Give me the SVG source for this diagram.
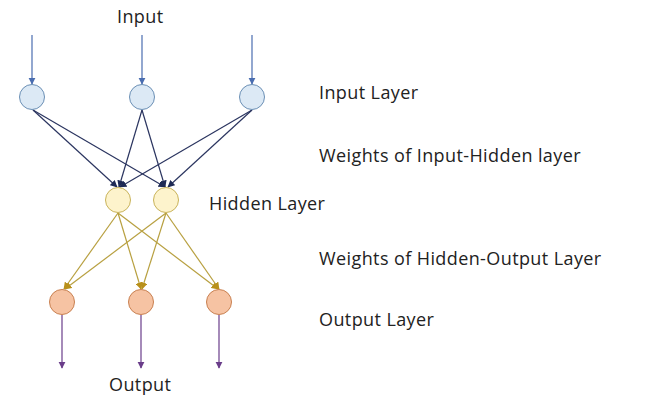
<svg xmlns="http://www.w3.org/2000/svg" width="652" height="411" viewBox="0 0 652 411">
<style>
text{font-family:"Open Sans","Liberation Sans",sans-serif;font-size:18px;letter-spacing:0.4px;fill:#222}
.i{fill:#dce9f5;stroke:#6a8fb5;stroke-width:1}
.h{fill:#fdf3cc;stroke:#c9b35a;stroke-width:1}
.o{fill:#f6c3a3;stroke:#c98050;stroke-width:1}
.a{stroke:#4a6db0;stroke-width:1.2;fill:none}
.b{stroke:#2b3560;stroke-width:1.2;fill:none}
.c{stroke:#b8a040;stroke-width:1.2;fill:none}
.d{stroke:#6a3d8a;stroke-width:1.2;fill:none}
</style>
<defs>
<marker id="ma" viewBox="0 0 10 10" refX="9" refY="5" markerWidth="6" markerHeight="6" orient="auto"><path d="M0,0L10,5L0,10z" fill="#4a6db0"/></marker>
<marker id="mb" viewBox="0 0 10 10" refX="9" refY="5" markerWidth="6" markerHeight="6" orient="auto"><path d="M0,0L10,5L0,10z" fill="#1e2a55"/></marker>
<marker id="mc" viewBox="0 0 10 10" refX="9" refY="5" markerWidth="6" markerHeight="6" orient="auto"><path d="M0,0L10,5L0,10z" fill="#b8901a"/></marker>
<marker id="md" viewBox="0 0 10 10" refX="9" refY="5" markerWidth="6" markerHeight="6" orient="auto"><path d="M0,0L10,5L0,10z" fill="#6a3d8a"/></marker>
</defs>
<rect width="652" height="411" fill="#fff"/>
<g id="connectors">
<line class="a" x1="32" y1="35" x2="32" y2="84" marker-end="url(#ma)"/>
<line class="a" x1="142" y1="35" x2="142" y2="84" marker-end="url(#ma)"/>
<line class="a" x1="252" y1="35" x2="252" y2="84" marker-end="url(#ma)"/>
<line class="b" x1="33" y1="110" x2="117" y2="187" marker-end="url(#mb)"/>
<line class="b" x1="33" y1="110" x2="165" y2="187" marker-end="url(#mb)"/>
<line class="b" x1="142" y1="110" x2="119" y2="187" marker-end="url(#mb)"/>
<line class="b" x1="142" y1="110" x2="165" y2="187" marker-end="url(#mb)"/>
<line class="b" x1="252" y1="110" x2="120" y2="187" marker-end="url(#mb)"/>
<line class="b" x1="252" y1="110" x2="168" y2="187" marker-end="url(#mb)"/>
<line class="c" x1="118" y1="213" x2="64" y2="289" marker-end="url(#mc)"/>
<line class="c" x1="118" y1="213" x2="141" y2="289" marker-end="url(#mc)"/>
<line class="c" x1="118" y1="213" x2="218" y2="289" marker-end="url(#mc)"/>
<line class="c" x1="166" y1="213" x2="65" y2="289" marker-end="url(#mc)"/>
<line class="c" x1="166" y1="213" x2="142" y2="289" marker-end="url(#mc)"/>
<line class="c" x1="166" y1="213" x2="219" y2="289" marker-end="url(#mc)"/>
<line class="d" x1="62" y1="315" x2="62" y2="368" marker-end="url(#md)"/>
<line class="d" x1="141" y1="315" x2="141" y2="368" marker-end="url(#md)"/>
<line class="d" x1="219" y1="315" x2="219" y2="368" marker-end="url(#md)"/>
</g>
<g id="in1"><circle class="i" cx="32" cy="97" r="12.5"/></g>
<g id="in2"><circle class="i" cx="142" cy="97" r="12.5"/></g>
<g id="in3"><circle class="i" cx="252" cy="97" r="12.5"/></g>
<g id="h1"><circle class="h" cx="118" cy="200" r="12.5"/></g>
<g id="h2"><circle class="h" cx="166" cy="200" r="12.5"/></g>
<g id="o1"><circle class="o" cx="62" cy="302" r="12.5"/></g>
<g id="o2"><circle class="o" cx="141" cy="302" r="12.5"/></g>
<g id="o3"><circle class="o" cx="219" cy="302" r="12.5"/></g>
<g id="labels">
<text x="117" y="23">Input</text>
<text x="319" y="99">Input Layer</text>
<text x="319" y="162">Weights of Input-Hidden layer</text>
<text x="209" y="210">Hidden Layer</text>
<text x="319" y="265">Weights of Hidden-Output Layer</text>
<text x="319" y="326">Output Layer</text>
<text x="109" y="391">Output</text>
</g>
</svg>
